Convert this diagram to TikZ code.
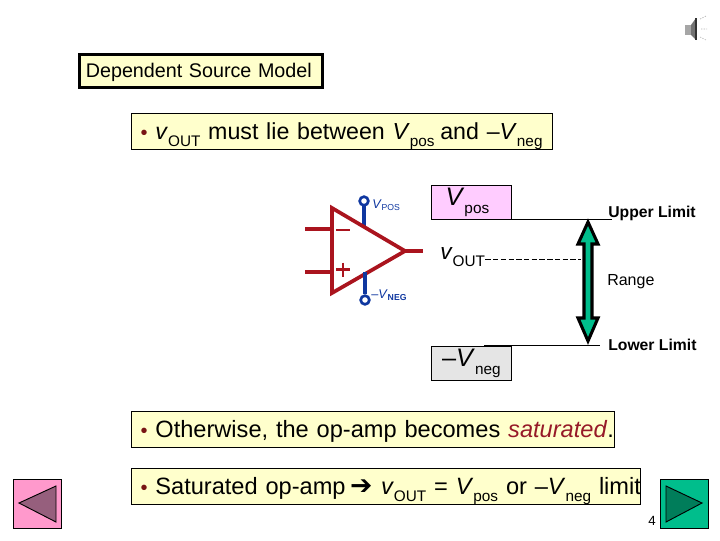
\documentclass[tikz,border=0pt]{standalone}
\usepackage{xcolor}
\usepackage{fontspec}
\setmainfont{Liberation Sans}
\usetikzlibrary{positioning}

\definecolor{paleyellow}{RGB}{255,255,204}
\definecolor{opred}{RGB}{170,20,30}
\definecolor{opblue}{RGB}{15,55,160}
\definecolor{rangegreen}{RGB}{0,190,140}
\definecolor{darkgreen}{RGB}{0,125,90}
\definecolor{navpink}{RGB}{255,153,204}
\definecolor{darkpink}{RGB}{150,95,125}
\definecolor{palepink}{RGB}{255,204,255}
\definecolor{saturedred}{RGB}{150,25,40}
\definecolor{bulletred}{RGB}{120,20,20}

\newcommand{\lowtxt}[1]{\raisebox{-0.55ex}{\fontsize{11.5}{12}\selectfont #1}}
\newcommand{\bulletmark}{\hspace*{7pt}\makebox[11pt][l]{\color{bulletred}\fontsize{15}{15}\selectfont\textbullet}}

\tikzset{
  textbox/.style={draw, fill=paleyellow, line width=0.6pt, anchor=west, inner sep=0pt, text height=20pt, text depth=7pt, font=\fontsize{17.7}{20}\selectfont, align=left},
  limitbox/.style={draw, line width=0.6pt, minimum width=60pt, minimum height=25.5pt, inner sep=0pt, font=\fontsize{19}{20}\selectfont},
  limitlabel/.style={inner sep=0pt, font=\fontsize{11.8}{12}\selectfont\bfseries},
  wire/.style={opred, line width=2.8pt},
  rail/.style={opblue, line width=2.4pt},
  terminal/.style={circle, draw=opblue, fill=white, line width=2pt, minimum size=6.5pt, inner sep=0pt},
  railtext/.style={opblue, inner sep=0pt, anchor=west},
  navbox/.style={draw, line width=0.8pt, minimum size=36.5pt, inner sep=0pt}
}

\begin{document}
\begin{tikzpicture}[x=0.75pt, y=-0.75pt]
\useasboundingbox (0,0) rectangle (720,540);

% Text boxes
\node[textbox, line width=2.2pt, text height=12pt, text depth=3pt, minimum height=24.5pt, font=\fontsize{14.8}{18}\selectfont, text width=182pt, align=center] (title) at (78,71) {\hspace*{-3pt}Dependent Source Model};
\node[textbox, font=\fontsize{17.4}{20}\selectfont, text width=316pt] (rule) at (131,131) {\mbox{\bulletmark\textit{v}\lowtxt{OUT} must lie between \textit{V}\lowtxt{pos}\hspace{-1.5pt} and --\textit{V}\lowtxt{neg}}};
\node[textbox, text width=362pt] (other) at (131,429) {\mbox{\bulletmark Otherwise, the op-amp becomes \textcolor{saturedred}{\textit{saturated}}.}};
\node[textbox, text width=382pt] (satur) at (131,486) {\mbox{\bulletmark Saturated op-amp\hspace{-2.5pt} {\fontsize{20}{13}\selectfont\fontspec{DejaVu Sans}➔}\hspace{0.5pt} \textit{v}\lowtxt{OUT} = \textit{V}\lowtxt{pos} or --\textit{V}\lowtxt{neg} limit}};

% Op-amp
\coordinate (plustop) at (332,208);
\coordinate (plusbot) at (332,293);
\coordinate (apex) at (405,251);
\coordinate (inup) at (305,229);
\coordinate (indown) at (305,272);
\coordinate (outend) at (423,251);
\draw[rail] (364,205) -- (364,228);
\draw[wire, line join=miter] (plustop) -- (apex) -- (plusbot) -- cycle;
\draw[wire] (inup) -- (inup -| plustop);
\draw[wire] (indown) -- (indown -| plustop);
\draw[wire] (apex) -- (outend);
\draw[opred, line width=2.2pt] (336,230) -- (350,230);
\draw[opred, line width=2.2pt] (336,269.5) -- (350,269.5) (343,262.5) -- (343,276.5);

\node[terminal] (vpospin) at (364,201) {};
\node[terminal] (vnegpin) at (365,300) {};
\coordinate (railbot) at (365,272);
\draw[rail] (vnegpin) -- (railbot);
\node[railtext] (vposlab) at (372,205) {\fontsize{9.5}{10}\selectfont\textit{V}\raisebox{-0.3ex}{\fontsize{6.5}{7}\selectfont POS}};
\node[railtext] (vneglab) at (371,295) {\fontsize{9.5}{10}\selectfont --\textit{V}\raisebox{-0.3ex}{\fontsize{6.5}{7}\selectfont\bfseries NEG}};

% Limits
\node[limitbox, fill=palepink, anchor=north west] (vposbox) at (431,185) {\hspace*{-6pt}\textit{V}\lowtxt{pos}};
\node[limitbox, fill=black!10, anchor=north west] (vnegbox) at (431,346) {--\textit{V}\lowtxt{neg}};
\node[inner sep=0pt, anchor=west, font=\fontsize{17}{20}\selectfont] (vout) at (440,257) {\textit{v}\lowtxt{OUT}};

\coordinate (upperend) at (612,219);
\coordinate (lowerend) at (600,345);
\coordinate (upperstart) at (484,219);
\coordinate (lowerstart) at (484,345);
\coordinate (rangeleft) at (581,259);
\draw[line width=0.7pt] (upperstart) -- (upperend);
\draw[line width=0.7pt] (lowerstart) -- (lowerend);
\draw[line width=0.5pt, dash pattern=on 4pt off 1.8pt] (vout.east |- rangeleft) -- (rangeleft);

% Range arrow
\draw[line width=2.3pt, fill=rangegreen, line join=miter] (588,222) -- (598,244) -- (592,244) -- (592,318) -- (598,318) -- (588,341) -- (578,318) -- (584,318) -- (584,244) -- (578,244) -- cycle;

\node[limitlabel, anchor=west] (upper) at (608,213) {Upper Limit};
\node[inner sep=0pt, anchor=west, font=\fontsize{12}{12}\selectfont] (range) at (607,282) {Range};
\node[limitlabel, anchor=west] (lower) at (608,345) {Lower Limit};

% Navigation buttons
\node[navbox, fill=navpink] (prev) at (37.5,504) {};
\draw[line width=0.7pt, fill=darkpink] (19,503) -- (56,486) -- (56,522) -- cycle;
\node[navbox, fill=rangegreen] (next) at (684.5,504) {};
\draw[line width=0.7pt, fill=darkgreen] (666,486) -- (702,503) -- (666,522) -- cycle;
\node[inner sep=0pt, font=\fontsize{10}{10}\selectfont] (page) at (652,521) {4};

% Speaker
\fill[black!35] (685,25) rectangle (691,35);
\fill[black!55] (691,25) -- (696,18) -- (696,40) -- (691,35) -- cycle;
\draw[black!80, line width=0.9pt] (696,18) -- (696,40);
\draw[black!30, line width=0.5pt, dash pattern=on 1pt off 1pt] (700,19) -- (706,16) (701,29) -- (707,29) (700,37) -- (706,40);

\end{tikzpicture}
\end{document}
